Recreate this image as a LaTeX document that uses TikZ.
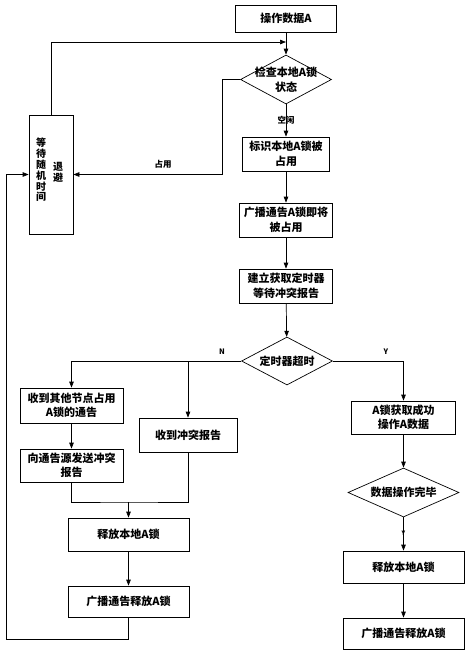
\documentclass[tikz,border=0pt]{standalone}
\usepackage{fontspec}
\setmainfont{Noto Sans CJK SC}
\usetikzlibrary{shapes.geometric,arrows.meta}

\begin{document}
\begin{tikzpicture}[x=1pt,y=-1pt,line width=0.7pt,>={Triangle[length=6pt,width=4.5pt]}]
\tikzset{box/.style={draw,rectangle,inner sep=1pt,align=center,font=\fontsize{11}{14.5}\selectfont\bfseries},
         dia/.style={draw,diamond,inner sep=0pt},
         txt/.style={draw=none,inner sep=0pt,align=center,font=\fontsize{11}{14.5}\selectfont\bfseries},
         col/.style={draw=none,inner sep=0pt,align=center,font=\fontsize{10}{10.8}\selectfont\bfseries},
         lab/.style={draw=none,fill=none,inner sep=0.5pt,font=\fontsize{8.5}{9}\selectfont\bfseries}}
\useasboundingbox (0,0) rectangle (474,659);
% main column
\node[box,minimum width=101pt,minimum height=27pt] (op) at (286,18.5) {操作数据A};
\node[dia,minimum width=91pt,minimum height=49pt] (chk) at (286,79.5) {};
\node[txt] (chkt) at (chk) {检查本地A锁\\状态};
\node[box,minimum width=87pt,minimum height=34pt] (mark) at (286,154) {标识本地A锁被\\占用};
\node[box,minimum width=93pt,minimum height=34pt] (bc1) at (286,220) {广播通告A锁即将\\被占用};
\node[box,minimum width=93pt,minimum height=34pt] (tim) at (286,286) {建立获取定时器\\等待冲突报告};
\node[dia,minimum width=91pt,minimum height=48pt] (tmo) at (287,361) {};
\node[txt] (tmot) at (tmo) {定时器超时};
% back-off box
\node[box,minimum width=44pt,minimum height=119pt] (wait) at (51,174.5) {};
\node[col] (waitt) at (41,170) {等\\待\\随\\机\\时\\间};
\node[col] (waitb) at (58,172.5) {退\\避};
% N branch
\node[box,minimum width=103pt,minimum height=35pt] (recv) at (71.5,405.5) {收到其他节点占用\\A锁的通告};
\node[box,minimum width=103pt,minimum height=33pt] (send) at (71.5,465.5) {向通告源发送冲突\\报告};
\node[box,minimum width=98pt,minimum height=34pt] (conf) at (188,435) {收到冲突报告};
\node[box,minimum width=121pt,minimum height=33pt] (relL) at (128.5,534.5) {释放本地A锁};
\node[box,minimum width=121pt,minimum height=31pt] (bcL) at (128.5,601.5) {广播通告释放A锁};
% Y branch
\node[box,minimum width=104pt,minimum height=33pt] (succ) at (403.5,417.5) {A锁获取成功\\操作A数据};
\node[dia,minimum width=111pt,minimum height=49pt] (done) at (403.5,492.5) {};
\node[txt] (donet) at (done) {数据操作完毕};
\node[box,minimum width=121pt,minimum height=32pt] (relR) at (403.5,567) {释放本地A锁};
\node[box,minimum width=121pt,minimum height=31pt] (bcR) at (403.5,633.5) {广播通告释放A锁};
% connectors
\coordinate (j1) at (286,42);
\draw[->] (op) -- (chk);
\draw[->] (wait.north) |- (j1);
\draw[->] (chk.west) -- ++(-18,0) |- (wait.east);
\node[lab] (occ) at (163,164) {占用};
\draw[->] (chk) -- (mark);
\node[lab] (idle) at (286,120) {空闲};
\draw[->] (mark) -- (bc1);
\draw[->] (bc1) -- (tim);
\draw[->] (tim) -- (tmo);
\draw[->] (tmo.west) -| (recv.north);
\draw[->] (conf.north |- tmo.west) -- (conf.north);
\node[lab,font=\fontsize{7.5}{8}\selectfont\bfseries] (no) at (222,352) {N};
\draw[->] (tmo.east) -| (succ.north);
\node[lab,font=\fontsize{7.5}{8}\selectfont\bfseries] (yes) at (386,352) {Y};
\draw[->] (recv) -- (send);
\coordinate (mg) at (128.5,502);
\draw (send.south) |- (mg) -| (conf.south);
\draw[->] (mg) -- (relL);
\draw[->] (relL) -- (bcL);
\coordinate (lb) at (6,639);
\draw[->] (bcL.south) |- (lb) |- (wait.west);
\draw[->] (succ) -- (done);
\draw[->] (done) -- (relR);
\node[lab,font=\fontsize{6}{7}\selectfont\bfseries] (yes2) at (403.5,533) {Y};
\draw[->] (relR) -- (bcR);
\end{tikzpicture}
\end{document}
